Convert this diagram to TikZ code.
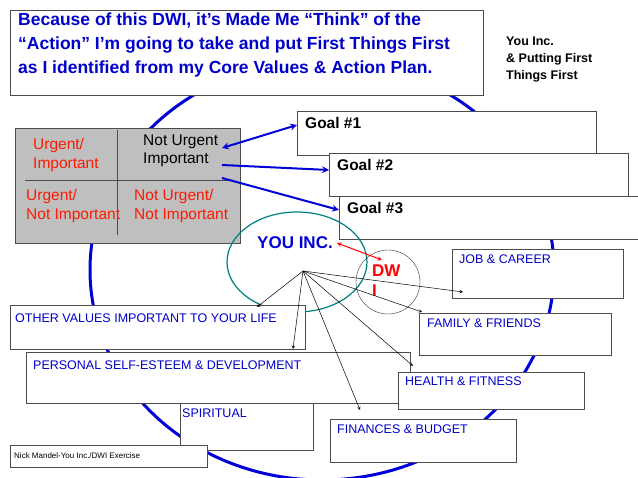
\documentclass[tikz,border=0pt]{standalone}
\usepackage{fontspec}
\setmainfont{Liberation Sans}
\begin{document}
\begin{tikzpicture}[x=1pt,y=-1pt,
  box/.style={draw=black!70,fill=white,line width=0.8pt},
  lbl/.style={anchor=north west,text=blue!80!black,font=\fontsize{12.5}{14}\selectfont,inner sep=0},
  arr/.style={-stealth,black,line width=0.5pt},
  barr/.style={stealth-stealth,blue!85!black,line width=2pt}]
\useasboundingbox (0,0) rectangle (638,478);
\draw[blue!85!black,line width=3pt] (322,270) ellipse [x radius=232,y radius=210];
\node[box,minimum width=473,minimum height=85,anchor=north west] (title) at (10,10) {};
\node[anchor=north west,align=left,text=blue!80!black,font=\bfseries\fontsize{17.5}{24}\selectfont,inner sep=0] (tt) at (18,13) {Because of this DWI, it’s Made Me “Think” of the\\“Action” I’m going to take and put First Things First\\as I identified from my Core Values \& Action Plan.};
\node[anchor=north west,align=left,font=\bfseries\fontsize{12.5}{17}\selectfont,inner sep=0] (yi) at (506,37) {You Inc.\\\& Putting First\\Things First};
\node[draw=black!70,fill=black!25,minimum width=225,minimum height=115,anchor=north west] (quad) at (15,128) {};
\draw[black!70] (117,130) -- (117,235) (25,180) -- (230,180);
\node[anchor=north west,align=left,text=red!80!orange,font=\fontsize{15.5}{19}\selectfont,inner sep=0] (q1) at (33,138) {Urgent/\\Important};
\node[anchor=north west,align=left,font=\fontsize{15.5}{18}\selectfont,inner sep=0] (q2) at (143,135) {Not Urgent\\Important};
\node[anchor=north west,align=left,text=red!80!orange,font=\fontsize{15.5}{19}\selectfont,inner sep=0] (q3) at (26,189) {Urgent/\\Not Important};
\node[anchor=north west,align=left,text=red!80!orange,font=\fontsize{15.5}{19}\selectfont,inner sep=0] (q4) at (134,189) {Not Urgent/\\Not Important};
\node[box,minimum width=299,minimum height=44,anchor=north west] (g1) at (297,111) {};
\node[anchor=north west,font=\bfseries\fontsize{15.5}{16}\selectfont,inner sep=0] at (305,117) {Goal \#1};
\node[box,minimum width=299,minimum height=43,anchor=north west] (g2) at (329,153) {};
\node[anchor=north west,font=\bfseries\fontsize{15.5}{16}\selectfont,inner sep=0] at (337,159) {Goal \#2};
\node[box,minimum width=299,minimum height=43,anchor=north west] (g3) at (339,196) {};
\node[anchor=north west,font=\bfseries\fontsize{15.5}{16}\selectfont,inner sep=0] at (347,202) {Goal \#3};
\coordinate (s1) at (222,148); \coordinate (e1) at (297,125);
\coordinate (s2) at (222,165); \coordinate (e2) at (329,170);
\coordinate (s3) at (222,178); \coordinate (e3) at (339,210);
\draw[barr] (s1) -- (e1);
\draw[-stealth,blue!85!black,line width=2pt] (s2) -- (e2);
\draw[-stealth,blue!85!black,line width=2pt] (s3) -- (e3);
\draw[teal,line width=1.2pt] (297,262) ellipse [x radius=70,y radius=50];
\draw[black!80] (388,282) circle (32);
\node[text=blue!85!black,font=\bfseries\fontsize{17}{18}\selectfont,inner sep=0] (you) at (295,243) {YOU INC.};
\node[anchor=north west,align=left,text=red,font=\bfseries\fontsize{17}{20}\selectfont,inner sep=0] (dwi) at (372,265) {DW\\I};
\coordinate (r1) at (337,243); \coordinate (r2) at (382,260);
\draw[stealth-stealth,red,line width=1pt] (r1) -- (r2);
\node[box,minimum width=171,minimum height=49,anchor=north west] (job) at (452,249) {};
\node[lbl] at (459,255) {JOB \& CAREER};
\node[box,minimum width=192,minimum height=42,anchor=north west] (fam) at (419,313) {};
\node[box,minimum width=133,minimum height=50,anchor=north west] (spi) at (180,400) {};
\node[lbl] at (182,409) {SPIRITUAL};
\node[box,minimum width=384,minimum height=51,anchor=north west] (per) at (26,352) {};
\node[lbl] at (33,361) {PERSONAL SELF-ESTEEM \& DEVELOPMENT};
\node[lbl] at (427,319) {FAMILY \& FRIENDS};
\node[box,minimum width=186,minimum height=37,anchor=north west] (hea) at (398,372) {};
\node[lbl] at (405,377) {HEALTH \& FITNESS};
\node[box,minimum width=186,minimum height=43,anchor=north west] (fin) at (330,419) {};
\node[lbl] at (337,425) {FINANCES \& BUDGET};
\node[box,minimum width=295,minimum height=44,anchor=north west] (oth) at (10,305) {};
\node[lbl] at (15,314) {OTHER VALUES IMPORTANT TO YOUR LIFE};
\node[box,line width=0.5pt,minimum width=197,minimum height=22,anchor=north west] (nick) at (10,445) {};
\node[anchor=west,font=\fontsize{8}{9}\selectfont,inner sep=0] at (14,456) {Nick Mandel-You Inc./DWI Exercise};
\coordinate (hub) at (303,271);
\coordinate (a1) at (257,307); \coordinate (a2) at (293,349);
\coordinate (a3) at (360,410); \coordinate (a4) at (413,366);
\coordinate (a5) at (422,312); \coordinate (a6) at (463,292);
\foreach \t in {a1,a2,a3,a4,a5,a6} \draw[arr] (hub) -- (\t);
\end{tikzpicture}
\end{document}
